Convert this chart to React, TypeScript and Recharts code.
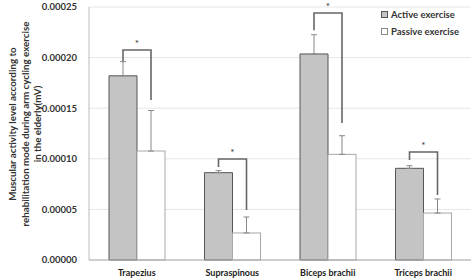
import React from "react";
import {
    BarChart,
    Bar,
    XAxis,
    YAxis,
    CartesianGrid,
    ErrorBar,
    Label
} from "recharts";

const categories = ["Trapezius", "Supraspinous", "Biceps brachii", "Triceps brachii"];
const active = [0.000182, 0.0000863, 0.0002036, 0.0000906];
const activeErr = [0.000014, 0.000002, 0.000019, 0.0000026];
const passive = [0.0001077, 0.0000267, 0.0001044, 0.0000464];
const passiveErr = [0.00004, 0.0000158, 0.0000184, 0.0000139];
// significance brackets: top, left end, right end
const bracketTop = [0.0002075, 0.0000998, 0.000244, 0.0001067];
const bracketLeft = [0.000196, 0.0000919, 0.000227, 0.0000988];
const bracketRight = [0.000158, 0.0000494, 0.0001354, 0.0000642];
const yTicks = [0, 0.00005, 0.0001, 0.00015, 0.0002, 0.00025];

const data = categories.map((name, i) => ({
    name,
    active: active[i],
    activeErr: [0, activeErr[i]],
    passive: passive[i],
    passiveErr: [0, passiveErr[i]],
    bTop: bracketTop[i],
    bLeft: bracketLeft[i],
    bRight: bracketRight[i]
}));

const FONT = "Lato, 'Open Sans', sans-serif";

const PassiveShape = (props: any) => {
    const { x, y, width, height, payload } = props;
    const bottom = y + height;
    const k = height / payload.passive;
    const py = (v: number) => bottom - v * k;
    const lx = x - width / 2;
    const rx = x + width / 2;
    const top = py(payload.bTop);
    return (
        <g>
            <rect x={x} y={y} width={width} height={height} fill="#ffffff" stroke="#a8a8a8" strokeWidth={1} />
            <path
                d={`M${lx},${py(payload.bLeft)} L${lx},${top} L${rx},${top} L${rx},${py(payload.bRight)}`}
                fill="none"
                stroke="#666"
                strokeWidth={1.6}
            />
            <text x={(lx + rx) / 2} y={Math.max(top - 3, 8)} textAnchor="middle" fontSize={10} fontFamily={FONT} fill="#333">*</text>
        </g>
    );
};

const YTitle = () => {
    const lines = [
        "Muscular activity level according to",
        "rehabilitation mode during arm cycling exercise",
        "in the elderly(mV)"
    ];
    return (
        <g transform="translate(25, 124) rotate(-90)">
            {lines.map((l, i) => (
                <text key={i} x={0} y={(i - 1) * 12.5 + 3.5} textAnchor="middle" fontSize={9.8} fontWeight="bold" fontFamily={FONT} fill="#333">
                    {l}
                </text>
            ))}
        </g>
    );
};

const LegendBox = () => (
    <div style={{ position: "absolute", left: 381, top: 6, fontFamily: FONT, fontSize: 9.5, fontWeight: "bold", color: "#333", lineHeight: "17px", whiteSpace: "nowrap" }}>
        <div style={{ display: "flex", alignItems: "center" }}>
            <span style={{ width: 5, height: 5, background: "#c4c4c4", border: "1px solid #555", marginRight: 3 }} />
            Active exercise
        </div>
        <div style={{ display: "flex", alignItems: "center" }}>
            <span style={{ width: 5, height: 5, background: "#fff", border: "1px solid #888", marginRight: 3 }} />
            Passive exercise
        </div>
    </div>
);

export default function App() {
    return (
        <div style={{ position: "fixed", left: 0, top: 0, width: 474, height: 279, background: "#fff" }}>
            <BarChart
                width={474}
                height={279}
                data={data}
                margin={{ top: 7, right: 3, bottom: 0, left: 0 }}
                barCategoryGap={20}
                barGap={0}
            >
                <CartesianGrid vertical={false} stroke="#e6e6e6" />
                <XAxis
                    dataKey="name"
                    height={19}
                    stroke="#aaa"
                    tickLine={false}
                    tick={{ fontSize: 9, fontWeight: "bold", fill: "#222", fontFamily: FONT }}
                    tickMargin={4}
                    interval={0}
                />
                <YAxis
                    width={89}
                    domain={[0, 0.00025]}
                    ticks={yTicks}
                    stroke="#bbb"
                    tickLine={false}
                    tickFormatter={(v: number) => v.toFixed(5)}
                    tick={{ fontSize: 9.5, fontWeight: "bold", fill: "#333", fontFamily: FONT }}
                    tickMargin={6}
                >
                    <Label content={<YTitle />} />
                </YAxis>
                <Bar dataKey="active" fill="#c4c4c4" stroke="#555" strokeWidth={1} isAnimationActive={false}>
                    <ErrorBar dataKey="activeErr" width={3} stroke="#888" strokeWidth={1} direction="y" />
                </Bar>
                <Bar dataKey="passive" shape={<PassiveShape />} isAnimationActive={false}>
                    <ErrorBar dataKey="passiveErr" width={3} stroke="#888" strokeWidth={1} direction="y" />
                </Bar>
            </BarChart>
            <LegendBox />
        </div>
    );
}
